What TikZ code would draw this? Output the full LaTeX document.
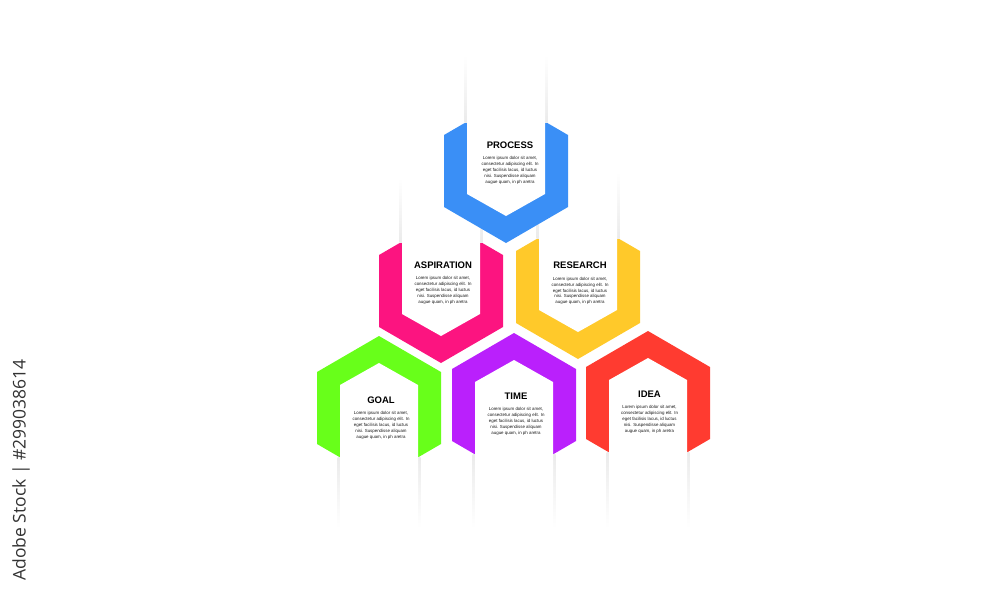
\documentclass[tikz,border=0pt]{standalone}
\usepackage{fontspec}
\setmainfont{Liberation Sans}
\setsansfont{Open Sans}
\usetikzlibrary{positioning}
\definecolor{hexblue}{HTML}{3A8FF6}
\definecolor{hexpink}{HTML}{FC1480}
\definecolor{hexyellow}{HTML}{FFC92A}
\definecolor{hexgreen}{HTML}{68FF1A}
\definecolor{hexpurple}{HTML}{BA20FC}
\definecolor{hexred}{HTML}{FF3B30}
\newcommand{\loremtext}{Lorem ipsum dolor sit amet,\\consectetur adipiscing elit. In\\eget facilisis lacus, id luctus\\nisi. Suspendisse aliquam\\augue quam, in ph aretra}
\tikzset{
    card/.style = {fill=white},
    fadeup/.style = {top color=white, bottom color=black!8},
    fadedown/.style = {top color=black!8, bottom color=white},
    title/.style = {font=\bfseries\fontsize{9.5}{11}\selectfont, inner sep=0pt},
    body/.style = {font=\fontsize{4.4}{5.8}\selectfont, align=center, inner sep=0pt, text=black!90}
}

\begin{document}
\begin{tikzpicture}[x=1pt,y=-1pt]
    \useasboundingbox (0,0) rectangle (1000,600);
    % lower row, cards hanging down
    \foreach \cx/\cy/\col in {379/408/hexgreen, 514/405/hexpurple, 648/403/hexred}{
        \fill[\col] (\cx,\cy-72) -- (\cx+62,\cy-36) -- (\cx+62,\cy+36) -- (\cx,\cy+72) -- (\cx-62,\cy+36) -- (\cx-62,\cy-36) -- cycle;
        \shade[fadedown] (\cx-41.5,\cy+49) rectangle (\cx-39,528);
        \shade[fadedown] (\cx+39,\cy+49) rectangle (\cx+41.5,528);
        \fill[card] (\cx-39,\cy-23) -- (\cx,\cy-45) -- (\cx+39,\cy-23) -- (\cx+39,528) -- (\cx-39,528) -- cycle;
    }
    % middle and top rows, cards coming from above
    \foreach \cx/\cy/\col/\ytop in {441/291/hexpink/178, 578/287/hexyellow/172, 506/171/hexblue/55}{
        \fill[\col] (\cx,\cy-72) -- (\cx+62,\cy-36) -- (\cx+62,\cy+36) -- (\cx,\cy+72) -- (\cx-62,\cy+36) -- (\cx-62,\cy-36) -- cycle;
        \shade[fadeup] (\cx-41.5,\ytop) rectangle (\cx-39,\cy-49);
        \shade[fadeup] (\cx+39,\ytop) rectangle (\cx+41.5,\cy-49);
        \fill[card] (\cx-39,\ytop) -- (\cx-39,\cy+23) -- (\cx,\cy+45) -- (\cx+39,\cy+23) -- (\cx+39,\ytop) -- cycle;
    }
    % texts
    \node[title] (proc) at (510,145) {PROCESS};
    \node[body, below=8pt of proc] (procbody) {\loremtext};
    \node[title] (asp) at (443,265) {ASPIRATION};
    \node[body, below=8pt of asp] (aspbody) {\loremtext};
    \node[title] (res) at (580,265.5) {RESEARCH};
    \node[body, below=8pt of res] (resbody) {\loremtext};
    \node[title] (goal) at (381,400) {GOAL};
    \node[body, below=8pt of goal] (goalbody) {\loremtext};
    \node[title] (time) at (516,396) {TIME};
    \node[body, below=8pt of time] (timebody) {\loremtext};
    \node[title] (idea) at (649.5,394) {IDEA};
    \node[body, below=8pt of idea] (ideabody) {\loremtext};
    \node[rotate=90, font=\sffamily\fontsize{17.5}{17.5}\selectfont, text=black!80] (stock) at (21,470) {Adobe Stock | \#299038614};
\end{tikzpicture}
\end{document}
